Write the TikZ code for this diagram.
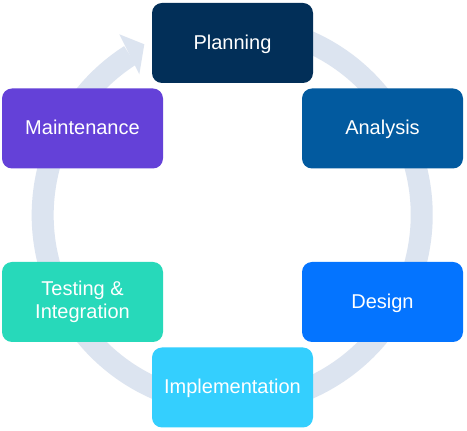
\documentclass[tikz,border=0pt]{standalone}
\usepackage{fontspec}
\setmainfont{Liberation Sans}
\definecolor{ringc}{HTML}{DCE4F0}
\definecolor{cplan}{HTML}{022F58}
\definecolor{canal}{HTML}{025A9F}
\definecolor{cdes}{HTML}{0474FF}
\definecolor{cimpl}{HTML}{34CFFE}
\definecolor{ctest}{HTML}{27D9BA}
\definecolor{cmaint}{HTML}{6441D8}
\begin{document}
\begin{tikzpicture}[x=1pt,y=1pt,
  phase/.style={rounded corners=10pt, minimum width=161pt, minimum height=80pt,
    inner sep=0pt, text=white, align=center,
    font=\fontsize{20}{23}\selectfont},
  oneline/.style={text height=13pt, text depth=0pt}]
\useasboundingbox (0,0) rectangle (467,431);
\fill[white] (0,0) rectangle (467,431);
\coordinate (ctr) at (232.2,216);
% cycle ring with arrow
\draw[ringc, line width=22pt] (ctr) ++(440:189.5) arc[start angle=440, end angle=122.6, radius=189.5];
\fill[ringc] (119.3,396.7) -- (144.3,386.7) -- (139.3,356.7) -- cycle;
% phases
\node[phase, oneline, fill=cplan]  (plan)  at (232.5,388)   {Planning};
\node[phase, oneline, fill=canal]  (anal)  at (382.5,302.5) {Analysis};
\node[phase, oneline, fill=cdes]   (des)   at (382.5,129)   {Design};
\node[phase, oneline, fill=cimpl]  (impl)  at (232.5,43.5)  {Implementation};
\node[phase, fill=ctest]           (test)  at (82.5,129)    {Testing \&\\Integration};
\node[phase, oneline, fill=cmaint] (maint) at (82.5,302.5)  {Maintenance};
\end{tikzpicture}
\end{document}
